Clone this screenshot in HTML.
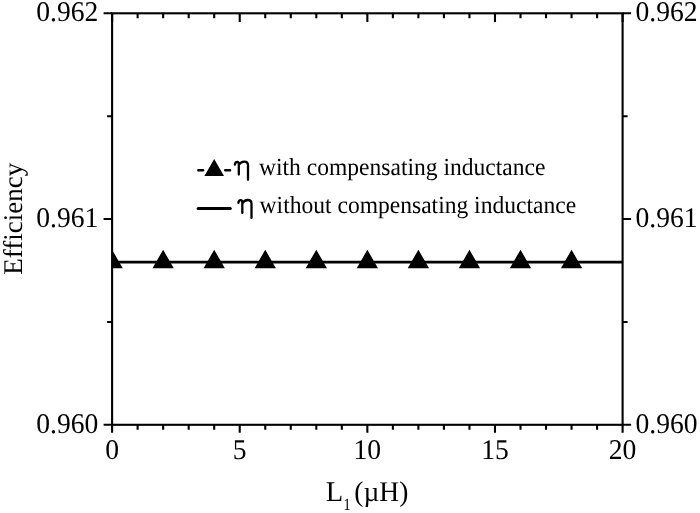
<!DOCTYPE html>
<html><head><meta charset="utf-8"><style>
html,body{margin:0;padding:0;background:#fff;}
body{width:700px;height:513px;overflow:hidden;}
svg{display:block;will-change:transform;}
text{font-family:"Liberation Serif",serif;fill:#000;font-variant-ligatures:none;text-rendering:geometricPrecision;}
</style></head><body>
<svg width="700" height="513" viewBox="0 0 700 513">
<defs><clipPath id="c"><rect x="112.1" y="13.3" width="510.50" height="411.50"/></clipPath>
<path id="eta" d="M234.9 164.6C235.0 162.8 236.2 161.9 237.3 161.9C238.4 161.9 238.8 163 238.8 164.5V174.6M238.8 165C240.2 162.6 242.3 161.7 244.4 161.7C246.9 161.7 248 163.3 248 165.5V179.8" fill="none" stroke="#000" stroke-width="2.3" stroke-linecap="round"/></defs>
<g clip-path="url(#c)">
<path d="M112.1 262.1H622.6" stroke="#000" stroke-width="2.7" fill="none"/>
<path d="M112.10 249.70L122.75 268.30L101.45 268.30ZM163.15 249.70L173.80 268.30L152.50 268.30ZM214.20 249.70L224.85 268.30L203.55 268.30ZM265.25 249.70L275.90 268.30L254.60 268.30ZM316.30 249.70L326.95 268.30L305.65 268.30ZM367.35 249.70L378.00 268.30L356.70 268.30ZM418.40 249.70L429.05 268.30L407.75 268.30ZM469.45 249.70L480.10 268.30L458.80 268.30ZM520.50 249.70L531.15 268.30L509.85 268.30ZM571.55 249.70L582.20 268.30L560.90 268.30Z" fill="#000"/>
</g>
<rect x="112.1" y="13.3" width="510.50" height="411.50" fill="none" stroke="#000" stroke-width="2.1"/>
<path d="M112.10 424.80V432.80M112.10 13.30V22.10M137.62 424.80V429.80M137.62 13.30V18.30M163.15 424.80V429.80M163.15 13.30V18.30M188.68 424.80V429.80M188.68 13.30V18.30M214.20 424.80V429.80M214.20 13.30V18.30M239.72 424.80V432.80M239.72 13.30V22.10M265.25 424.80V429.80M265.25 13.30V18.30M290.77 424.80V429.80M290.77 13.30V18.30M316.30 424.80V429.80M316.30 13.30V18.30M341.82 424.80V429.80M341.82 13.30V18.30M367.35 424.80V432.80M367.35 13.30V22.10M392.88 424.80V429.80M392.88 13.30V18.30M418.40 424.80V429.80M418.40 13.30V18.30M443.92 424.80V429.80M443.92 13.30V18.30M469.45 424.80V429.80M469.45 13.30V18.30M494.98 424.80V432.80M494.98 13.30V22.10M520.50 424.80V429.80M520.50 13.30V18.30M546.02 424.80V429.80M546.02 13.30V18.30M571.55 424.80V429.80M571.55 13.30V18.30M597.08 424.80V429.80M597.08 13.30V18.30M622.60 424.80V432.80M622.60 13.30V22.10M103.60 424.80H112.10M622.60 424.80H631.10M107.10 321.93H112.10M622.60 321.93H627.60M103.60 219.05H112.10M622.60 219.05H631.10M107.10 116.18H112.10M622.60 116.18H627.60M103.60 13.30H112.10M622.60 13.30H631.10" stroke="#000" stroke-width="2.1" fill="none"/>
<g font-size="27.6">
<text transform="translate(98.4 432.90) scale(1 1.035)" text-anchor="end">0.960</text>
<text transform="translate(635.5 432.90) scale(1 1.035)">0.960</text>
<text transform="translate(98.4 227.15) scale(1 1.035)" text-anchor="end">0.961</text>
<text transform="translate(635.5 227.15) scale(1 1.035)">0.961</text>
<text transform="translate(98.4 21.40) scale(1 1.035)" text-anchor="end">0.962</text>
<text transform="translate(635.5 21.40) scale(1 1.035)">0.962</text>
<text transform="translate(112.10 459.4) scale(1 1.035)" text-anchor="middle">0</text>
<text transform="translate(239.72 459.4) scale(1 1.035)" text-anchor="middle">5</text>
<text transform="translate(367.35 459.4) scale(1 1.035)" text-anchor="middle">10</text>
<text transform="translate(494.98 459.4) scale(1 1.035)" text-anchor="middle">15</text>
<text transform="translate(622.60 459.4) scale(1 1.035)" text-anchor="middle">20</text>
</g>
<path d="M198.3 170.2H203.2M225.2 170.2H230.1" stroke="#000" stroke-width="2.4" stroke-linecap="round"/>
<path d="M214.2 159.1L224.0 176.0L204.4 176.0Z" fill="#000"/>
<use href="#eta"/>
<text transform="translate(259 175.4) scale(1 1.045)" font-size="23.55">with compensating inductance</text>
<path d="M198.1 208.5H230.3" stroke="#000" stroke-width="3" stroke-linecap="round"/>
<use href="#eta" transform="translate(3.5 38.3)"/>
<text transform="translate(259.6 213.4) scale(1 1.045)" font-size="23.55">without compensating inductance</text>
<text transform="translate(21.9 274.8) rotate(-90)" font-size="27">Efficiency</text>
<text x="325.8" y="500.6" font-size="28.5">L</text>
<text transform="translate(343.4 509.6) scale(0.9 1.08)" font-size="15.8">1</text>
<text transform="translate(354.3 500.6) scale(1 1.035)" font-size="27.5">(&#181;H)</text>
</svg>
</body></html>
